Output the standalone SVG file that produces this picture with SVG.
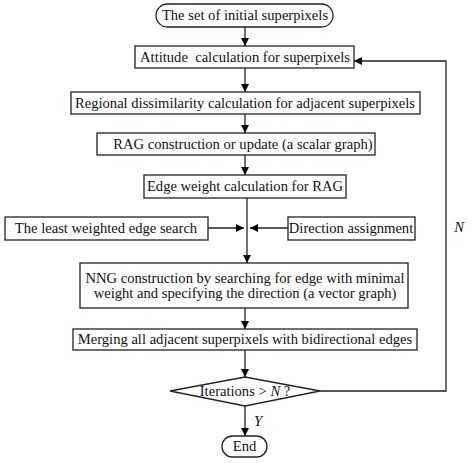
<svg xmlns="http://www.w3.org/2000/svg" width="474" height="463" viewBox="0 0 474 463">
<defs>
<marker id="ah" viewBox="0 0 10 10" refX="10" refY="5" markerWidth="8" markerHeight="8" markerUnits="userSpaceOnUse" orient="auto">
<path d="M0,0 L10,5 L0,10 Z" fill="#000"/>
</marker>
<style>
.b{fill:#fff;stroke:#222;stroke-width:1.3}
.t{font-family:"Liberation Serif","DejaVu Serif",serif;font-size:14.6px;fill:#111;text-anchor:middle}
.i{font-style:italic}
.c{fill:none;stroke:#222;stroke-width:1.3}
</style>
</defs>
<rect width="474" height="463" fill="#fff"/>
<g id="connectors">
<line class="c" x1="245" y1="27" x2="245" y2="46" marker-end="url(#ah)"/>
<line class="c" x1="245" y1="68" x2="245" y2="92" marker-end="url(#ah)"/>
<line class="c" x1="245" y1="114" x2="245" y2="133" marker-end="url(#ah)"/>
<line class="c" x1="245" y1="155" x2="245" y2="175" marker-end="url(#ah)"/>
<line class="c" x1="247" y1="198" x2="247" y2="263" marker-end="url(#ah)"/>
<line class="c" x1="208" y1="228" x2="244" y2="228" marker-end="url(#ah)"/>
<line class="c" x1="288" y1="228" x2="250" y2="228" marker-end="url(#ah)"/>
<line class="c" x1="245" y1="308" x2="245" y2="329" marker-end="url(#ah)"/>
<line class="c" x1="245" y1="350" x2="245" y2="377" marker-end="url(#ah)"/>
<line class="c" x1="245" y1="406" x2="245" y2="436" marker-end="url(#ah)"/>
<polyline class="c" points="320,391 446,391 446,61 354,61" marker-end="url(#ah)"/>
<text class="t i" x="459" y="232">N</text>
<text class="t i" x="258" y="426">Y</text>
</g>
<g id="start">
<rect class="b" x="156" y="4" width="177" height="23" rx="11.5"/>
<text class="t" x="245" y="20">The set of initial superpixels</text>
</g>
<g id="attitude">
<rect class="b" x="135" y="46" width="219" height="22"/>
<text class="t" x="245" y="62" xml:space="preserve" style="white-space:pre">Attitude  calculation for superpixels</text>
</g>
<g id="dissimilarity">
<rect class="b" x="71" y="92" width="349" height="22"/>
<text class="t" x="245" y="108">Regional dissimilarity calculation for adjacent superpixels</text>
</g>
<g id="rag">
<rect class="b" x="97" y="133" width="278" height="22"/>
<text class="t" x="243" y="149">RAG construction or update (a scalar graph)</text>
</g>
<g id="edgeweight">
<rect class="b" x="144" y="175" width="202" height="23"/>
<text class="t" x="245" y="191">Edge weight calculation for RAG</text>
</g>
<g id="leastedge">
<rect class="b" x="5" y="217" width="203" height="23"/>
<text class="t" x="106" y="233">The least weighted edge search</text>
</g>
<g id="direction">
<rect class="b" x="288" y="217" width="127" height="23"/>
<text class="t" x="351" y="233">Direction assignment</text>
</g>
<g id="nng">
<rect class="b" x="80" y="263" width="328" height="45"/>
<text class="t" x="245" y="283">NNG construction by searching for edge with minimal</text>
<text class="t" x="245" y="298">weight and specifying the direction (a vector graph)</text>
</g>
<g id="merging">
<rect class="b" x="73" y="329" width="344" height="21"/>
<text class="t" x="245" y="344">Merging all adjacent superpixels with bidirectional edges</text>
</g>
<g id="decision">
<polygon class="b" points="245,377 320,391 245,406 170,391"/>
<text class="t" x="245" y="396">Iterations &gt; <tspan class="i">N</tspan> ?</text>
</g>
<g id="end">
<rect class="b" x="222" y="436" width="45" height="21" rx="10.5"/>
<text class="t" x="244.5" y="451">End</text>
</g>
</svg>
